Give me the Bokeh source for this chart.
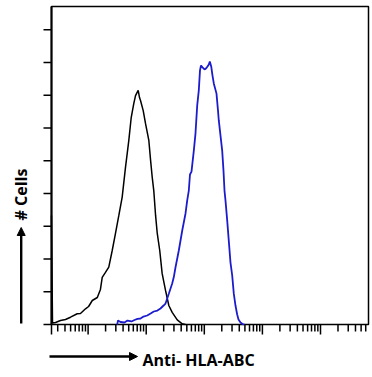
import math
from bokeh.plotting import figure
from bokeh.models import Range1d, Label, Arrow, NormalHead
from bokeh.embed import file_html
from bokeh.resources import INLINE

# ---- data ----
# isotype control (black)
ctrl_x = [2.34, 2.44, 2.75, 3.35, 4.08, 4.98, 6.49, 7.39, 9.02, 10.2, 11.8, 14.4, 16.3, 17.5,
          19.9, 22.7, 26.0, 29.6, 33.8, 38.6, 44.0, 50.2, 55.2, 61.2, 65.5, 69.5, 72.8, 76.7,
          79.8, 88.8, 97.2, 111, 119, 127, 135, 145, 155, 171, 188, 215, 245, 280, 342, 417, 475]
ctrl_y = [33.3, 0.46, 0.61, 1.22, 1.53, 2.23, 3.27, 3.36, 4.79, 5.50, 7.33, 8.24, 10.7, 14.4,
          15.9, 17.5, 22.6, 27.8, 33.3, 38.9, 48.0, 56.2, 63.2, 67.5, 69.9, 70.8, 71.5, 69.3,
          68.4, 65.3, 61.4, 56.2, 50.1, 44.9, 40.9, 33.3, 27.8, 22.6, 15.6, 10.4, 5.8, 3.7,
          1.4, 0.2, 0.0]

# Anti-HLA-ABC (blue)
hla_x = [31.7, 32.7, 36.1, 42.3, 47.6, 55.8, 62.9, 70.8, 79.8, 89.8, 104, 119, 135, 156, 176,
         199, 215, 245, 280, 298, 319, 364, 417, 475, 508, 541, 567, 602, 660, 705, 755, 804,
         843, 877, 931, 1008, 1070, 1135, 1195, 1244, 1315, 1384, 1457, 1622, 1721, 1776, 1900,
         2032, 2139, 2226, 2315, 2477, 2638, 2823, 3020, 3215, 3441, 3680, 3878, 4198, 4542, 4915]
hla_y = [0.0, 1.22, 0.76, 0.61, 1.22, 0.92, 1.37, 1.74, 1.83, 2.44, 2.75, 3.36, 3.97, 4.27, 4.89,
         5.80, 6.41, 9.37, 12.5, 14.4, 17.4, 22.6, 28.7, 33.9, 37.9, 40.9, 45.8, 46.7, 53.1, 58.3,
         66.9, 71.5, 77.6, 79.1, 78.5, 77.9, 78.2, 78.8, 79.4, 80.3, 78.8, 76.0, 73.6, 70.5, 65.3,
         62.3, 57.7, 53.1, 47.0, 40.9, 37.9, 31.8, 25.6, 18.9, 15.0, 9.5, 5.8, 3.05, 1.53, 0.61,
         0.15, 0.0]

# axis extents and ticks (tick labels are not shown in the original)
x_start, x_end = 2.344, 6.70e5
y_start, y_end = 0, 97.1
y_ticks = [0, 10, 20, 30, 40, 50, 60, 70, 80, 90]
x_major = [x_start, 1e1, 1e2, 1e3, 1e4, 1e5]
x_minor = [k * 10 ** d for d in range(0, 6) for k in range(2, 10)
           if x_start < k * 10 ** d <= x_end]

x_label = "Anti- HLA-ABC"
y_label = "# Cells"

# ---- layout: the plotting area covers the whole canvas so that the
# hand-made axis frame, ticks, arrows and titles can all be drawn ----
W, H = 372, 377
PX_LEFT, PX_BOTTOM = 51.0, 324.0          # screen position of (x_start, 0)
PX_PER_DECADE = 317.0 / math.log10(x_end / x_start)
PX_PER_Y = (PX_BOTTOM - 6.0) / y_end


def xs(px):
    """data x for a screen column"""
    return x_start * 10 ** ((px - PX_LEFT) / PX_PER_DECADE)


def ys(py):
    """data y for a screen row"""
    return (PX_BOTTOM - py) / PX_PER_Y


p = figure(width=W, height=H, x_axis_type="log", x_axis_location=None, y_axis_location=None,
           x_range=Range1d(xs(0), xs(W)), y_range=Range1d(ys(H), ys(0)),
           output_backend="svg", toolbar_location=None, min_border=0)
p.background_fill_color = "white"
p.border_fill_color = "white"
p.outline_line_color = None
p.xgrid.visible = False
p.ygrid.visible = False

# plot frame
p.quad(left=x_start, right=x_end, bottom=y_start, top=y_end,
       fill_color=None, line_color="black", line_width=1.5)
p.segment(x0=x_start, y0=y_start, x1=x_start, y1=y_end, line_color="black", line_width=2)

# x ticks (log)
maj_len, min_len, ytick_len = 10 / PX_PER_Y, 7 / PX_PER_Y, 8
p.segment(x0=x_major, y0=[0] * len(x_major), x1=x_major, y1=[-maj_len] * len(x_major),
          line_color="black", line_width=1.5)
p.segment(x0=x_minor, y0=[0] * len(x_minor), x1=x_minor, y1=[-min_len] * len(x_minor),
          line_color="black", line_width=1.5)
# y ticks
p.segment(x0=[xs(PX_LEFT - ytick_len)] * len(y_ticks), y0=y_ticks,
          x1=[x_start] * len(y_ticks), y1=y_ticks, line_color="black", line_width=1.5)

# histograms
p.line(ctrl_x, ctrl_y, line_color="black", line_width=1.5)
p.line(hla_x, hla_y, line_color="#1c1ccc", line_width=1.8)

# axis titles with arrows
p.add_layout(Arrow(end=NormalHead(size=8, fill_color="black", line_color="black", line_width=1),
                   x_start=xs(49), y_start=ys(356), x_end=xs(137), y_end=ys(356),
                   line_width=2.4, line_color="black"))
p.add_layout(Label(x=xs(142), y=ys(359.5), text=x_label, text_font="Open Sans",
                   text_font_style="bold", text_font_size="16px",
                   text_align="left", text_baseline="alphabetic", text_color="black"))

p.add_layout(Arrow(end=NormalHead(size=8, fill_color="black", line_color="black", line_width=1),
                   x_start=xs(20.7), y_start=ys(323), x_end=xs(20.7), y_end=ys(227),
                   line_width=2.4, line_color="black"))
p.add_layout(Label(x=xs(20.7), y=ys(220), text=y_label, angle=math.pi / 2, text_font="Open Sans",
                   text_font_style="bold", text_font_size="16px",
                   text_align="left", text_baseline="middle", text_color="black"))

open("out.html", "w").write(file_html(p, INLINE))
